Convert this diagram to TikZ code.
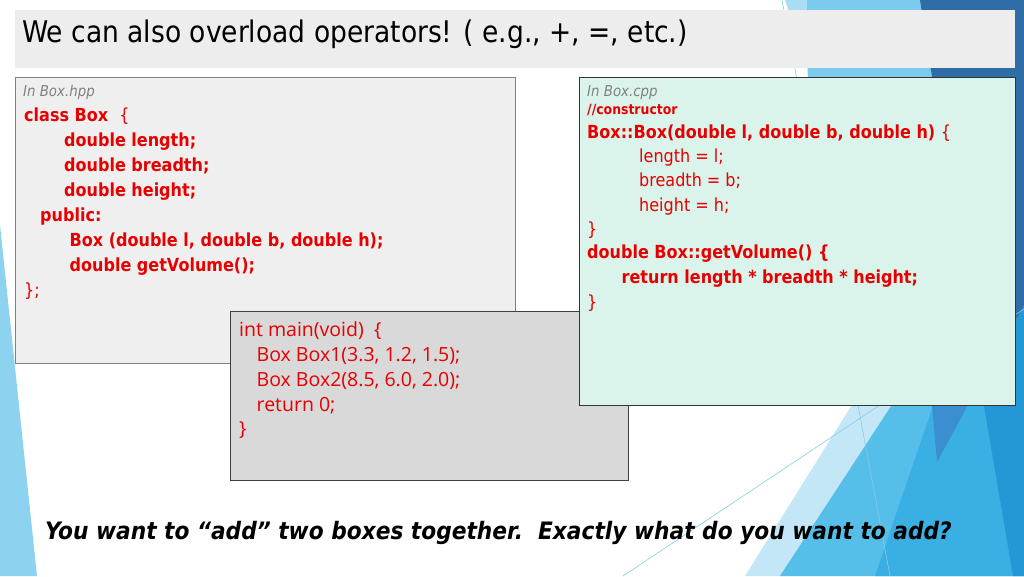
\documentclass[tikz,border=0pt]{standalone}
\usepackage{fontspec}
\setmainfont{DejaVu Sans}[FakeStretch=0.89]
\newfontfamily\narrowfont{Open Sans}
\newfontfamily\questionfont{DejaVu Sans}[FakeStretch=0.905]
\usepackage{xcolor}
\definecolor{codered}{RGB}{230,0,0}
\definecolor{notegray}{RGB}{128,128,128}
\definecolor{barfill}{RGB}{237,237,237}
\definecolor{hppfill}{RGB}{239,239,239}
\definecolor{mainfill}{RGB}{217,217,217}
\definecolor{cppfill}{RGB}{218,244,235}
\definecolor{leftblue}{RGB}{141,211,240}
\definecolor{paleblue}{RGB}{169,221,244}
\definecolor{skyblue}{RGB}{124,203,238}
\definecolor{lightblue}{RGB}{196,231,247}
\definecolor{midblue}{RGB}{85,191,233}
\definecolor{deepblue}{RGB}{58,175,227}
\definecolor{oceanblue}{RGB}{35,152,212}
\definecolor{navyblue}{RGB}{46,109,165}
\definecolor{wedgeblue}{RGB}{59,142,208}
\definecolor{rayblue}{RGB}{134,203,232}
\tikzstyle{codebox}=[line width=0.8pt]
\tikzstyle{line}=[anchor=base west, inner sep=0pt, text=codered]
\tikzstyle{note}=[anchor=base west, inner sep=0pt, text=notegray, font=\fontsize{15}{18}\selectfont\itshape]
\newcommand{\codebold}{\fontsize{18}{22}\selectfont\bfseries}
\newcommand{\coderegular}{\fontsize{18}{22}\selectfont}
\newcommand{\mainsize}{\fontsize{19.5}{23}\selectfont\narrowfont}

\begin{document}
\begin{tikzpicture}[x=1pt,y=-1pt]
  \useasboundingbox (0,0) rectangle (1024,576);
  \fill [white] (0,0) rectangle (1024,576);
  % facets
  \fill [leftblue] (0,225) -- (37,576) -- (0,576) -- cycle;
  \fill [paleblue] (785,0) -- (807,0) -- (810,72) -- cycle;
  \fill [skyblue] (807,0) -- (922,0) -- (932,77) -- (932,300) -- (810,300) -- cycle;
  \fill [lightblue] (745,576) -- (855,400) -- (1024,400) -- (1024,576) -- cycle;
  \fill [midblue] (780,576) -- (895,400) -- (1024,400) -- (1024,576) -- cycle;
  \fill [deepblue] (875,576) -- (935,400) -- (1024,400) -- (1024,576) -- cycle;
  \fill [oceanblue] (983,400) -- (1024,300) -- (1024,576) -- (1013,576) -- cycle;
  \fill [navyblue] (920,0) -- (1024,0) -- (1024,305) -- (968,405) -- (932,405) -- (932,77) -- cycle;
  \fill [wedgeblue] (932,405) -- (968,405) -- (937,462) -- cycle;
  \draw [rayblue,line width=0.6pt] (623,576) -- (1024,309);
  \draw [rayblue,line width=0.6pt] (782,0) -- (890,576);
  % title
  \fill [barfill] (15,10) rectangle (1015,68);
  \node [anchor=base west,inner sep=0pt,font=\fontsize{29.8}{34}\selectfont] (title) at (22,42.5)
    {We can also overload operators! ( e.g., +, =, etc.)};
  % Box.hpp
  \filldraw [codebox,fill=hppfill,draw=notegray] (15,77) rectangle (515,363);
  \node [note] (hppnote) at (23,96) {In Box.hpp};
  \node [line,font=\codebold] (hppclass) at (24,121) {class Box\ \ {\mdseries\{}};
  \node [line,font=\codebold] (hpplen) at (64,146) {double length;};
  \node [line,font=\codebold] (hppbre) at (64,171) {double breadth;};
  \node [line,font=\codebold] (hpphei) at (64,196) {double height;};
  \node [line,font=\codebold] (hpppub) at (40,221) {public:};
  \node [line,font=\codebold] (hppctor) at (69.5,246) {Box (double l, double b, double h);};
  \node [line,font=\codebold] (hppvol) at (69.5,271) {double getVolume();};
  \node [line,font=\coderegular] (hppend) at (24,296) {\};};
  % main
  \filldraw [codebox,fill=mainfill,draw=black!75] (230,311) rectangle (628,480);
  \node [line,font=\mainsize] (mainsig) at (239,336) {int main(void)\ \ \{};
  \node [line,font=\mainsize] (mainone) at (256.5,361) {Box Box1(3.3, 1.2, 1.5);};
  \node [line,font=\mainsize] (maintwo) at (256.5,386) {Box Box2(8.5, 6.0, 2.0);};
  \node [line,font=\mainsize] (mainret) at (256.5,411) {return 0;};
  \node [line,font=\mainsize] (mainend) at (239,435) {\}};
  % Box.cpp
  \filldraw [codebox,fill=cppfill,draw=black!80] (579,77) rectangle (1015,405);
  \node [note] (cppnote) at (587,96) {In Box.cpp};
  \node [line,font=\fontsize{14}{17}\selectfont\bfseries] (cppcmt) at (587,114.5) {//constructor};
  \node [line,font=\codebold] (cppctor) at (587,138) {Box::Box(double l, double b, double h) {\mdseries\{}};
  \node [line,font=\coderegular] (cpplen) at (639,162.5) {length = l;};
  \node [line,font=\coderegular] (cppbre) at (639,186.5) {breadth = b;};
  \node [line,font=\coderegular] (cpphei) at (639,211) {height = h;};
  \node [line,font=\coderegular] (cppendone) at (587,235) {\}};
  \node [line,font=\codebold] (cppvol) at (587,258.5) {double Box::getVolume() \{};
  \node [line,font=\codebold] (cppret) at (621.5,283.5) {return length * breadth * height;};
  \node [line,font=\coderegular] (cppendtwo) at (587,308) {\}};
  % question
  \node [anchor=base west,inner sep=0pt,font=\fontsize{24}{28}\selectfont\questionfont\bfseries\itshape] (question) at (45,539)
    {You want to “add” two boxes together.\ \ Exactly what do you want to add?};
\end{tikzpicture}
\end{document}
